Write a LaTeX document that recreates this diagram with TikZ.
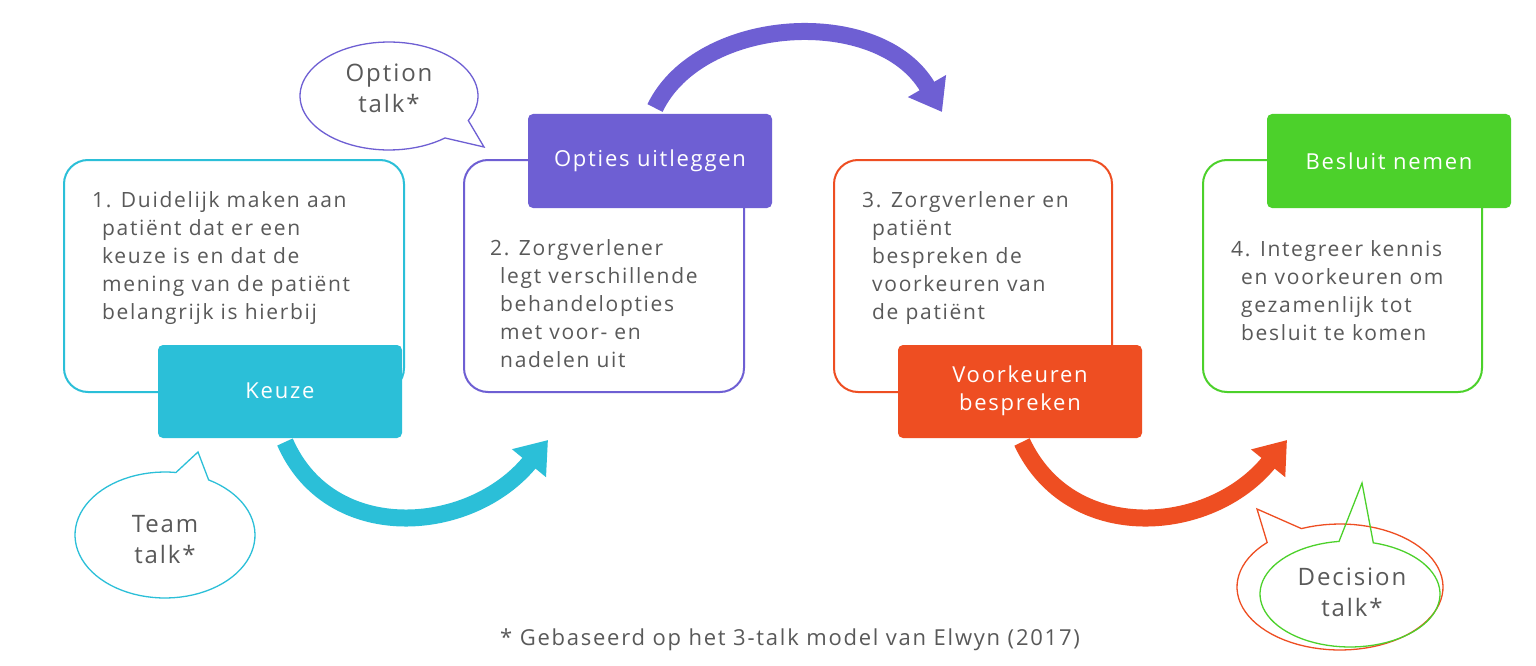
\documentclass[tikz,border=0pt]{standalone}
\usepackage{fontspec}
\setmainfont{Open Sans}[LetterSpace=8]
\usetikzlibrary{arrows.meta}
\definecolor{ccyan}{HTML}{2BBFD8}
\definecolor{cpurple}{HTML}{6E5FD3}
\definecolor{corange}{HTML}{EE4E22}
\definecolor{cgreen}{HTML}{4CD12B}
\definecolor{ctext}{HTML}{595959}
\tikzset{
 outline/.style={draw, line width=2pt, rounded corners=24pt},
 labelbox/.style={rounded corners=5pt, text=white, font=\fontsize{22}{28}\selectfont, align=center},
 body/.style={anchor=north west, inner sep=0pt, align=left, text=ctext, font=\fontsize{21}{28}\selectfont},
 bubtext/.style={text=ctext, align=center, font=\fontsize{24}{31}\selectfont},
 bigarrow/.style={line width=17pt, -{Triangle[length=30pt,width=42pt]}},
 bubble/.style={line width=1.3pt, fill=white}
}
\newcommand{\hi}{\hspace*{10pt}}
\begin{document}
\begin{tikzpicture}[x=1pt,y=-1pt]
\useasboundingbox[fill=white] (0,0) rectangle (1536,666);
% outline boxes
\draw[outline, ccyan] (64,160) rectangle (404,392);
\draw[outline, cpurple] (464,160) rectangle (744,392);
\draw[outline, corange] (834,160) rectangle (1112,392);
\draw[outline, cgreen] (1203,160) rectangle (1482,392);
% label boxes
\path[fill=ccyan, rounded corners=5pt] (158,345) rectangle (402,438);
\node[labelbox] (keuze) at (280,391) {Keuze};
\path[fill=cpurple, rounded corners=5pt] (528,114) rectangle (772,208);
\node[labelbox] (opties) at (650,161) {Opties uitleggen};
\path[fill=corange, rounded corners=5pt] (898,345) rectangle (1142,438);
\node[labelbox] (voork) at (1020,391) {Voorkeuren\\bespreken};
\path[fill=cgreen, rounded corners=5pt] (1267,114) rectangle (1511,208);
\node[labelbox] (besluit) at (1389,161) {Besluit nemen};
% body text
\node[body] (t1) at (92,191) {1. Duidelijk maken aan\\\hi patiënt dat er een\\\hi keuze is en dat de\\\hi mening van de patiënt\\\hi belangrijk is hierbij};
\node[body] (t2) at (490,239) {2. Zorgverlener\\\hi legt verschillende\\\hi behandelopties\\\hi met voor- en\\\hi nadelen uit};
\node[body] (t3) at (862,191) {3. Zorgverlener en\\\hi patiënt\\\hi bespreken de\\\hi voorkeuren van\\\hi de patiënt};
\node[body] (t4) at (1231,240) {4. Integreer kennis\\\hi en voorkeuren om\\\hi gezamenlijk tot\\\hi besluit te komen};
% arrows
\coordinate (a1s) at (285,442); \coordinate (a1e) at (548,440);
\draw[bigarrow, ccyan] (a1s) .. controls (330,545) and (470,535) .. (a1e);
\coordinate (a2s) at (655,108); \coordinate (a2e) at (942,112);
\draw[bigarrow, cpurple] (a2s) .. controls (700,15) and (880,5) .. (a2e);
\coordinate (a3s) at (1022,442); \coordinate (a3e) at (1287,440);
\draw[bigarrow, corange] (a3s) .. controls (1070,545) and (1210,535) .. (a3e);
% bubbles
\draw[bubble, draw=cpurple, fill=white] plot[domain=51:387, samples=80] ({389+89*cos(\x)},{96+54*sin(\x)}) -- (484,147) -- cycle;
\node[bubtext] (opt) at (389,88) {Option\\talk*};
\draw[bubble, draw=ccyan, fill=white] plot[domain=-61:277, samples=80] ({165+90*cos(\x)},{535+63*sin(\x)}) -- (198,452) -- cycle;
\node[bubtext] (team) at (165,540) {Team\\talk*};
\draw[line width=1.3pt, corange] plot[domain=248:585, samples=80] ({1340+103*cos(\x)},{587+63*sin(\x)}) -- (1257,509) -- cycle;
\draw[line width=1.3pt, cgreen] plot[domain=285:623, samples=80] ({1350+90*cos(\x)},{594+53*sin(\x)}) -- (1362,483) -- cycle;
\node[bubtext] (dec) at (1352,592) {Decision\\talk*};
% footnote
\node[text=ctext, font=\fontsize{22}{26}\selectfont] (foot) at (790,640) {* Gebaseerd op het 3-talk model van Elwyn (2017)};
\end{tikzpicture}
\end{document}
